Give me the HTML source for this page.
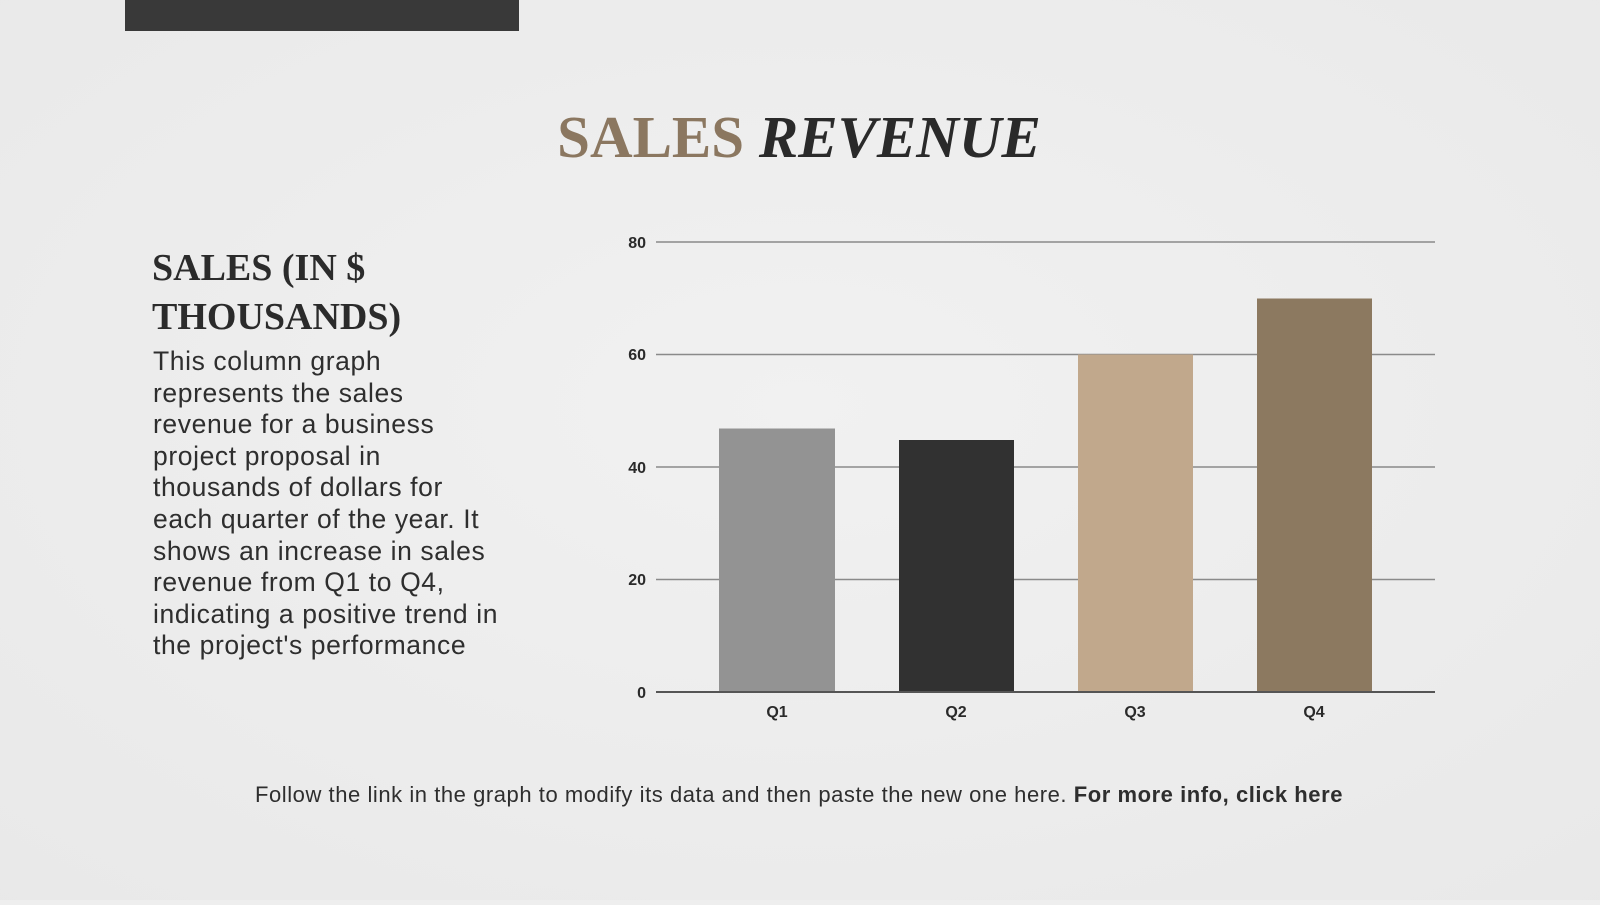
<!DOCTYPE html>
<html><head><meta charset="utf-8"><style>
html,body{margin:0;padding:0;}
body{width:1600px;height:900px;overflow:hidden;background:#eeeeee;}
</style></head><body>
<svg width="1600" height="900" viewBox="0 0 1600 900" xmlns="http://www.w3.org/2000/svg">
<defs>
<radialGradient id="bg" cx="0.5" cy="0.45" r="0.8">
<stop offset="0" stop-color="#f1f1f1"/><stop offset="1" stop-color="#e8e8e8"/>
</radialGradient>
</defs>
<rect width="1600" height="900" fill="url(#bg)"/>
<rect x="125" y="0" width="394" height="31" fill="#393939"/>
<text x="799" y="157" text-anchor="middle" font-family="Liberation Serif, serif" font-size="59" font-weight="bold"><tspan fill="#8b7760">SALES </tspan><tspan fill="#2a2a2a" font-style="italic">REVENUE</tspan></text>
<g font-family="Liberation Serif, serif" font-weight="bold" font-size="38" fill="#2b2b2b">
<text x="152" y="280">SALES (IN $</text>
<text x="152" y="329">THOUSANDS)</text>
</g>
<g font-family="Liberation Sans, sans-serif" font-size="26.5" letter-spacing="0.6" fill="#2e2e2e">
<text x="153" y="370">This column graph</text>
<text x="153" y="402">represents the sales</text>
<text x="153" y="433">revenue for a business</text>
<text x="153" y="465">project proposal in</text>
<text x="153" y="496">thousands of dollars for</text>
<text x="153" y="528">each quarter of the year. It</text>
<text x="153" y="560">shows an increase in sales</text>
<text x="153" y="591">revenue from Q1 to Q4,</text>
<text x="153" y="623">indicating a positive trend in</text>
<text x="153" y="654">the project's performance</text>
</g>
<g stroke="#8a8a8a" stroke-width="1.5">
<line x1="656" y1="242" x2="1435" y2="242"/>
<line x1="656" y1="354.5" x2="1435" y2="354.5"/>
<line x1="656" y1="467" x2="1435" y2="467"/>
<line x1="656" y1="579.5" x2="1435" y2="579.5"/>
</g>
<rect x="719" y="428.5" width="116" height="263.5" fill="#939393"/>
<rect x="899" y="440" width="115" height="252" fill="#313131"/>
<rect x="1078" y="354.5" width="115" height="337.5" fill="#c1a88c"/>
<rect x="1257" y="298.5" width="115" height="393.5" fill="#8c7960"/>
<line x1="656" y1="692" x2="1435" y2="692" stroke="#555" stroke-width="2"/>
<g font-family="Liberation Sans, sans-serif" font-weight="bold" font-size="16" fill="#2a2a2a">
<g text-anchor="end">
<text x="646" y="248">80</text>
<text x="646" y="360">60</text>
<text x="646" y="473">40</text>
<text x="646" y="585">20</text>
<text x="646" y="698">0</text>
</g>
<g text-anchor="middle">
<text x="777" y="717">Q1</text>
<text x="956" y="717">Q2</text>
<text x="1135" y="717">Q3</text>
<text x="1314" y="717">Q4</text>
</g>
</g>
<text x="799" y="802" text-anchor="middle" font-family="Liberation Sans, sans-serif" font-size="22" letter-spacing="0.55" fill="#2e2e2e">Follow the link in the graph to modify its data and then paste the new one here. <tspan font-weight="bold">For more info, click here</tspan></text>
</svg>
</body></html>
